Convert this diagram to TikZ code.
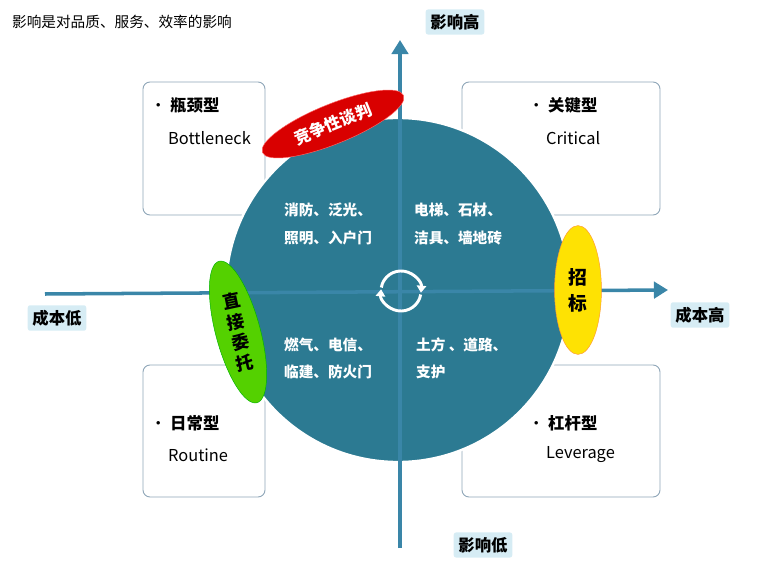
\documentclass[tikz,border=0pt]{standalone}
\usepackage{fontspec}
\setmainfont{Noto Sans CJK SC}
\usetikzlibrary{arrows.meta,shapes.geometric}
\definecolor{axisblue}{HTML}{3A86A8}
\definecolor{circfill}{HTML}{2C7A92}
\definecolor{tagfill}{HTML}{D6ECF4}
\definecolor{boxline}{HTML}{8FA6B8}
\tikzset{
  cornerbox/.style={draw=boxline, thick, fill=white, rounded corners=6pt},
  tag/.style={fill=tagfill, rounded corners=2pt, font=\bfseries\fontsize{14}{16}\selectfont, inner sep=4pt},
  intext/.style={text=white, font=\bfseries\fontsize{12.5}{14}\selectfont, anchor=west},
  boxtext/.style={anchor=west, font=\fontsize{14}{16}\selectfont},
}
\begin{document}
\begin{tikzpicture}[x=0.03cm, y=-0.03cm]
        \useasboundingbox (0,0) rectangle (760,570);

        \node [anchor=west, font=\fontsize{12.5}{14}\selectfont] (title) at (8,22) {影响是对品质、服务、效率的影响};

        \draw [cornerbox] (143,82) rectangle (265,215);
        \draw [cornerbox] (462,82) rectangle (660,215);
        \draw [cornerbox] (143,365) rectangle (265,497);
        \draw [cornerbox] (462,365) rectangle (660,497);

        \node [boxtext] (tlh) at (146,105) {\textbullet\ \textbf{瓶颈型}};
        \node [boxtext] (tle) at (164,138) {Bottleneck};
        \node [boxtext] (trh) at (524,105) {\textbullet\ \textbf{关键型}};
        \node [boxtext] (tre) at (542,138) {Critical};
        \node [boxtext] (blh) at (146,423) {\textbullet\ \textbf{日常型}};
        \node [boxtext] (ble) at (164,455) {Routine};
        \node [boxtext] (brh) at (524,423) {\textbullet\ \textbf{杠杆型}};
        \node [boxtext] (bre) at (542,455) {Leverage};

        \draw [white, line width=2pt, fill=circfill] (398,290) circle (172);

        \draw [axisblue, line width=3pt, -{Triangle[length=12pt,width=14pt]}] (400,548) -- (400,40);
        \draw [axisblue, line width=3pt, -{Triangle[length=12pt,width=14pt]}] (45,294) -- (668,290);

        \node [tag] (hi) at (455,22) {影响高};
        \node [tag] (lo) at (483,545) {影响低};
        \node [tag] (cl) at (57,318) {成本低};
        \node [tag] (ch) at (700,315) {成本高};

        \node [intext] (q1a) at (280,210) {消防、泛光、};
        \node [intext] (q1b) at (280,238) {照明、入户门};
        \node [intext] (q2a) at (410,210) {电梯、石材、};
        \node [intext] (q2b) at (410,238) {洁具、墙地砖};
        \node [intext] (q3a) at (280,345) {燃气、电信、};
        \node [intext] (q3b) at (280,372) {临建、防火门};
        \node [intext] (q4a) at (412,345) {土方 、道路、};
        \node [intext] (q4b) at (412,372) {支护};

        % centre rotation arrows
        \draw [white, line width=2.5pt, -{Triangle[length=6pt,width=8pt]}] (381.3,287.5) arc (190:365:20);
        \draw [white, line width=2.5pt, -{Triangle[length=6pt,width=8pt]}] (420.7,294.5) arc (10:185:20);

        \node [fill=red!85!black, draw=red!60, ellipse, rotate=22, minimum width=130pt, minimum height=34pt, inner sep=0pt,
               text=white, font=\bfseries\fontsize{14}{16}\selectfont] (neg) at (333,124) {竞争性谈判};
        \node [fill=green!55!olive!80!lime, draw=green!70!black, ellipse, rotate=-75, minimum width=125pt, minimum height=38pt, inner sep=0pt] (dir) at (238,332) {};
        \node [font=\bfseries\fontsize{15}{18}\selectfont, align=center, rotate=12] (dirt) at (238,332) {直\\接\\委\\托};
        \node [fill=yellow!85!orange, draw=orange!80, ellipse, minimum width=40pt, minimum height=110pt, inner sep=0pt,
               font=\bfseries\fontsize{16}{22}\selectfont, align=center] (bid) at (578,290) {招\\标};
\end{tikzpicture}
\end{document}
